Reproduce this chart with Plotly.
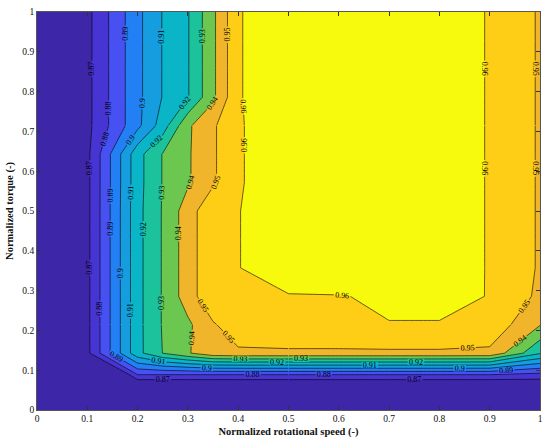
import plotly.graph_objects as go

# grid of normalized rotational speed (x) and normalized torque (y)
speed = [0, 0.1, 0.2, 0.25, 0.3, 0.35, 0.4, 0.5, 0.6, 0.7, 0.8, 0.9, 1.0]
torque = [0, 0.0714, 0.09, 0.1429, 0.2143, 0.2857, 0.3571, 0.4286, 0.5,
          0.5714, 0.6429, 0.7143, 0.7857, 0.8571, 0.9286, 1.0]

# efficiency values, one row per torque value
eff_t000 = [0.80, 0.80, 0.80, 0.80, 0.80, 0.80, 0.80, 0.80, 0.80, 0.80, 0.80, 0.80, 0.80]
eff_t007 = [0.80, 0.81, 0.866, 0.866, 0.866, 0.866, 0.866, 0.866, 0.866, 0.866, 0.866, 0.866, 0.866]
eff_t009 = [0.80, 0.82, 0.881, 0.881, 0.881, 0.881, 0.881, 0.881, 0.881, 0.881, 0.881, 0.881, 0.878]
eff_t014 = [0.80, 0.8675, 0.917, 0.9302, 0.939, 0.9475, 0.9485, 0.9485, 0.9485, 0.9485, 0.9485, 0.948, 0.921]
eff_t021 = [0.80, 0.8675, 0.917, 0.9308, 0.938, 0.949, 0.9555, 0.958, 0.958, 0.9597, 0.9597, 0.9569, 0.9405]
eff_t029 = [0.80, 0.8675, 0.917, 0.9308, 0.9453, 0.958, 0.9595, 0.959, 0.9595, 0.9617, 0.9617, 0.9598, 0.948]
eff_t036 = [0.80, 0.8675, 0.917, 0.9308, 0.9453, 0.958, 0.9595, 0.97, 0.97, 0.97, 0.9645, 0.9595, 0.949]
eff_t043 = [0.80, 0.8675, 0.917, 0.9308, 0.9453, 0.958, 0.9595, 0.97, 0.97, 0.97, 0.9645, 0.9595, 0.949]
eff_t050 = [0.80, 0.8675, 0.917, 0.9308, 0.9453, 0.958, 0.9595, 0.97, 0.97, 0.97, 0.9645, 0.9595, 0.949]
eff_t057 = [0.80, 0.8675, 0.9165, 0.9305, 0.9388, 0.9486, 0.9586, 0.97, 0.97, 0.97, 0.9645, 0.9595, 0.949]
eff_t064 = [0.80, 0.8675, 0.9165, 0.9305, 0.9388, 0.9486, 0.9586, 0.97, 0.97, 0.97, 0.9645, 0.9595, 0.949]
eff_t071 = [0.80, 0.8672, 0.8974, 0.915, 0.9384, 0.9486, 0.9586, 0.97, 0.97, 0.97, 0.9645, 0.9595, 0.949]
eff_t079 = [0.80, 0.8672, 0.8974, 0.9105, 0.9193, 0.9379, 0.959, 0.97, 0.97, 0.97, 0.9645, 0.9595, 0.949]
eff_t086 = [0.80, 0.8672, 0.8974, 0.9105, 0.9193, 0.9379, 0.959, 0.97, 0.97, 0.97, 0.9645, 0.9595, 0.949]
eff_t093 = [0.80, 0.8672, 0.8974, 0.9105, 0.9193, 0.9379, 0.959, 0.97, 0.97, 0.97, 0.9645, 0.9595, 0.949]
eff_t100 = [0.80, 0.8672, 0.8974, 0.9105, 0.9193, 0.9379, 0.959, 0.97, 0.97, 0.97, 0.9645, 0.9595, 0.949]

efficiency = [eff_t000, eff_t007, eff_t009, eff_t014, eff_t021, eff_t029, eff_t036,
              eff_t043, eff_t050, eff_t057, eff_t064, eff_t071, eff_t079, eff_t086,
              eff_t093, eff_t100]

level_start, level_end, level_step = 0.87, 0.96, 0.01

tick_vals = [0, 0.1, 0.2, 0.3, 0.4, 0.5, 0.6, 0.7, 0.8, 0.9, 1]
tick_text = ["0", "0.1", "0.2", "0.3", "0.4", "0.5", "0.6", "0.7", "0.8", "0.9", "1"]

band_colors = ["#3e26a8", "#4735d3", "#4751f2", "#2280f4", "#159ddf", "#0ab5c8",
               "#1cc29c", "#6cc750", "#f0b52a", "#fecd16", "#f8fa0e"]
n = len(band_colors)
colorscale = [[i / (n - 1), c] for i, c in enumerate(band_colors)]

serif = "Liberation Serif"
levels = dict(start=level_start, end=level_end, size=level_step)

fig = go.Figure()

# filled bands over the whole grid (lines drawn separately below)
fig.add_trace(go.Contour(
    x=speed, y=torque, z=efficiency,
    contours=dict(**levels, coloring="fill", showlabels=False),
    line=dict(width=0, smoothing=0),
    colorscale=colorscale, showscale=False, hoverinfo="skip",
))

# Contour lines with inline labels, drawn on adjoining tiles of the same grid so
# that each line gets several labels (as MATLAB's clabel does).
# Each tile: (first row, last row, first column, last column) of the grid.
tiles = [(0, 4, 0, 7), (0, 4, 7, 12), (4, 8, 0, 12), (8, 11, 0, 12), (11, 15, 0, 12)]
for r0, r1, c0, c1 in tiles:
    fig.add_trace(go.Contour(
        x=speed[c0:c1 + 1], y=torque[r0:r1 + 1],
        z=[row[c0:c1 + 1] for row in efficiency[r0:r1 + 1]],
        contours=dict(**levels, coloring="none", showlabels=True, labelformat=".2~f",
                      labelfont=dict(family=serif, size=8, color="black")),
        line=dict(color="black", width=0.6, smoothing=0),
        showscale=False, hoverinfo="skip",
    ))

axis_common = dict(range=[0, 1], tickvals=tick_vals, ticktext=tick_text,
                   ticks="inside", ticklen=4, tickwidth=0.7, tickcolor="#333",
                   showline=True, linecolor="#555", linewidth=0.8, mirror="ticks",
                   showgrid=False, zeroline=False,
                   tickfont=dict(family=serif, size=9.5, color="#111"))

fig.update_layout(
    width=550, height=443,
    margin=dict(l=37, r=7, t=10, b=33),
    paper_bgcolor="white", plot_bgcolor="white",
    showlegend=False,
    xaxis=dict(**axis_common,
               title=dict(text="<b>Normalized rotational speed (-)</b>",
                          font=dict(family=serif, size=10.5, color="#111"), standoff=4)),
    yaxis=dict(**axis_common,
               title=dict(text="<b>Normalized torque (-)</b>",
                          font=dict(family=serif, size=10.5, color="#111"), standoff=6)),
)

fig.write_html("out.html", config={"displayModeBar": False},
               post_script="document.body.style.margin='0';"
                           "document.body.style.overflow='hidden';")
